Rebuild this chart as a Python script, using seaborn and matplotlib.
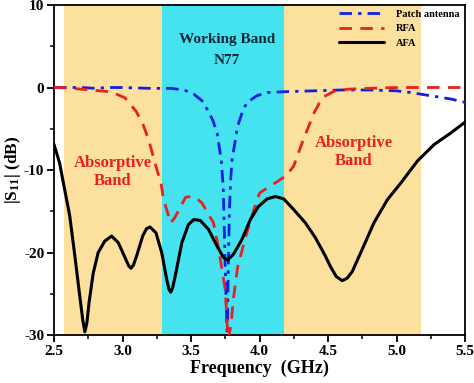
import numpy as np
import pandas as pd
import matplotlib
matplotlib.use("Agg")
import matplotlib.pyplot as plt
import seaborn as sns
from matplotlib.ticker import MultipleLocator

# S11 curves
afa_f = [2.50, 2.54, 2.578, 2.615, 2.652, 2.688, 2.71, 2.725, 2.74, 2.756, 2.786, 2.822,
         2.871, 2.92, 2.969, 3.018, 3.045, 3.061, 3.08, 3.103, 3.147, 3.175, 3.20, 3.244,
         3.286, 3.323, 3.34, 3.352, 3.365, 3.384, 3.433, 3.481, 3.52, 3.567, 3.628, 3.689,
         3.737, 3.767, 3.81, 3.872, 3.933, 3.993, 4.055, 4.116, 4.177, 4.25, 4.335, 4.408,
         4.48, 4.518, 4.56, 4.604, 4.64, 4.677, 4.75, 4.835, 4.933, 5.03, 5.153, 5.275,
         5.397, 5.50]
afa_db = [-6.9, -9.1, -12.4, -15.6, -20.4, -25.3, -28.2, -29.6, -28.5, -26.0, -22.5, -20.0,
          -18.6, -18.0, -18.8, -20.6, -21.6, -21.9, -21.5, -20.4, -18.0, -17.1, -16.9, -17.6,
          -20.0, -23.3, -24.5, -24.8, -24.3, -22.9, -18.8, -16.6, -16.0, -16.1, -17.2, -19.2,
          -20.6, -20.9, -20.2, -18.4, -16.0, -14.4, -13.5, -13.2, -13.5, -14.8, -16.4, -18.2,
          -20.4, -21.7, -22.9, -23.4, -23.1, -22.3, -19.6, -16.4, -13.6, -11.6, -8.9, -6.9,
          -5.5, -4.2]

rfa_f = [2.50, 2.60, 2.70, 2.80, 2.90, 2.934, 3.018, 3.10, 3.15, 3.19, 3.22, 3.25,
         3.28, 3.30, 3.33, 3.35, 3.38, 3.41, 3.46, 3.50, 3.54, 3.58, 3.615, 3.664,
         3.70, 3.73, 3.75, 3.77, 3.79, 3.81, 3.84, 3.90, 3.955, 4.00, 4.07, 4.13,
         4.20, 4.25, 4.32, 4.40, 4.46, 4.55, 4.65, 4.80, 5.00, 5.50]
rfa_db = [0.0, -0.05, -0.2, -0.35, -0.5, -0.65, -1.25, -2.9, -4.5, -6.3, -8.1, -9.9,
          -11.5, -13.6, -15.2, -16.4, -15.8, -14.9, -13.3, -13.2, -13.4, -14.0, -15.0, -16.4,
          -19.4, -22.5, -24.5, -30.5, -29.0, -25.5, -21.8, -18.0, -15.0, -12.8, -12.0, -11.4,
          -10.6, -9.5, -6.3, -3.0, -1.2, -0.4, -0.2, -0.1, 0.0, 0.0]

patch_f = [2.50, 2.70, 2.80, 2.90, 3.00, 3.20, 3.35, 3.45, 3.52, 3.58, 3.62, 3.66,
           3.69, 3.72, 3.735, 3.75, 3.765, 3.77, 3.78, 3.79, 3.80, 3.84, 3.88, 3.91,
           3.98, 4.06, 4.20, 4.40, 4.60, 4.80, 5.00, 5.10, 5.25, 5.40, 5.50]
patch_db = [0.0, 0.0, -0.1, 0.0, 0.0, -0.1, -0.1, -0.3, -0.8, -1.6, -2.7, -4.0,
            -5.5, -8.7, -12.0, -22.0, -31.0, -24.0, -15.0, -11.0, -8.7, -4.7, -2.7, -1.8,
            -1.0, -0.6, -0.5, -0.4, -0.3, -0.3, -0.4, -0.6, -1.0, -1.4, -1.8]

# band edges (GHz)
absorb_bands = [(2.57, 3.29), (4.18, 5.18)]
work_band = (3.29, 4.18)

sns.set_style("ticks")
plt.rcParams["font.family"] = ["Liberation Serif", "DejaVu Serif"]
plt.rcParams["font.weight"] = "bold"
plt.rcParams["axes.labelweight"] = "bold"
plt.rcParams["axes.unicode_minus"] = False
plt.rcParams["axes.edgecolor"] = "black"
plt.rcParams["axes.labelcolor"] = "black"
plt.rcParams["xtick.color"] = "black"
plt.rcParams["ytick.color"] = "black"
plt.rcParams["text.color"] = "black"
plt.rcParams["mathtext.fontset"] = "custom"
plt.rcParams["mathtext.rm"] = "Liberation Serif:bold"
plt.rcParams["mathtext.it"] = "Liberation Serif:bold"
plt.rcParams["mathtext.bf"] = "Liberation Serif:bold"

fig = plt.figure(figsize=(4.74, 3.83), dpi=100)
ax = fig.add_axes([0.114, 0.125, 0.867, 0.862])

for a, b in absorb_bands:
    ax.axvspan(a, b, color="#FCE09E", lw=0, zorder=0)
ax.axvspan(work_band[0], work_band[1], color="#44E3EF", lw=0, zorder=0)

patch = pd.DataFrame({"f": patch_f, "s11": patch_db})
rfa = pd.DataFrame({"f": rfa_f, "s11": rfa_db})
afa = pd.DataFrame({"f": afa_f, "s11": afa_db})

sns.lineplot(data=patch, x="f", y="s11", ax=ax, color="#1020E0", lw=2.0,
             label="Patch antenna", zorder=3)
ax.lines[-1].set_dashes([4.5, 2.2, 1.2, 2.2])
sns.lineplot(data=rfa, x="f", y="s11", ax=ax, color="#E82020", lw=2.0,
             label="RFA", zorder=3)
ax.lines[-1].set_dashes([4.5, 3.0])
sns.lineplot(data=afa, x="f", y="s11", ax=ax, color="black", lw=2.2,
             label="AFA", zorder=4)
for ln in ax.lines:
    ln.set_solid_joinstyle("round")
    ln.set_dash_joinstyle("round")

ax.set_xlim(2.5, 5.5)
ax.set_ylim(-30, 10)
ax.xaxis.set_major_locator(MultipleLocator(0.5))
ax.xaxis.set_minor_locator(MultipleLocator(0.25))
ax.yaxis.set_major_locator(MultipleLocator(10))
ax.yaxis.set_minor_locator(MultipleLocator(5))
ax.tick_params(which="major", direction="out", length=5, width=1.3, labelsize=11, pad=2)
ax.tick_params(which="minor", direction="out", length=3, width=1.1)
for s in ax.spines.values():
    s.set_linewidth(1.3)
for lab in ax.get_xticklabels() + ax.get_yticklabels():
    lab.set_fontweight("bold")

ax.set_xlabel("Frequency  (GHz)", fontsize=13, labelpad=1)
ax.set_ylabel(r"|S$_{11}$| (dB)", fontsize=12.5, labelpad=1)

ax.text(3.76, 5.8, "Working Band", ha="center", va="center", fontsize=11,
        fontweight="bold", color="#10283A")
ax.text(3.76, 3.3, "N77", ha="center", va="center", fontsize=11,
        fontweight="bold", color="#10283A")
ax.text(2.93, -10.2, "Absorptive\nBand", ha="center", va="center", fontsize=12,
        fontweight="bold", color="#E82020", linespacing=1.15)
ax.text(4.69, -7.8, "Absorptive\nBand", ha="center", va="center", fontsize=12,
        fontweight="bold", color="#E82020", linespacing=1.15)

leg = ax.legend(loc="upper right", bbox_to_anchor=(1.01, 1.015), frameon=False,
                fontsize=7.5, handlelength=4.3, labelspacing=0.5, handletextpad=1.2)
for t in leg.get_texts():
    t.set_fontweight("bold")

fig.savefig("out.png", dpi=100)
